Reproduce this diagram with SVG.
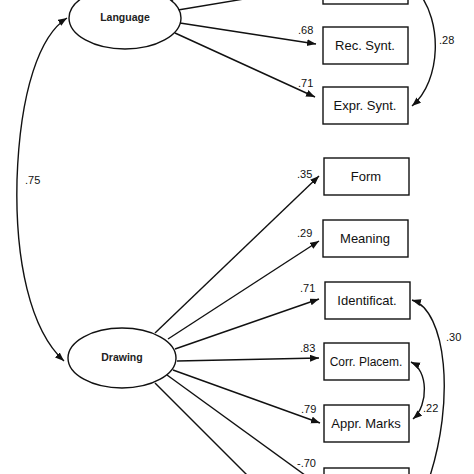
<svg xmlns="http://www.w3.org/2000/svg" width="474" height="474" viewBox="0 0 474 474">
<style>
.bg{fill:#fff}
.box{fill:#fff;stroke:#111;stroke-width:1.4}
.ell{fill:#fff;stroke:#111;stroke-width:1.4}
.lbl{font-family:"Liberation Sans",Arial,sans-serif;font-size:13px;fill:#111;text-anchor:middle}
.lat{font-family:"Liberation Sans",Arial,sans-serif;font-size:10.5px;font-weight:bold;fill:#222;text-anchor:middle}
.num{font-family:"Liberation Sans",Arial,sans-serif;font-size:11px;fill:#111}
.ln{fill:none;stroke:#111;stroke-width:1.4}
</style>
<defs>
<marker id="ah" markerUnits="userSpaceOnUse" markerWidth="10" markerHeight="8" refX="9" refY="3.5" orient="auto-start-reverse">
<path d="M0,0 L9,3.5 L0,7 z" fill="#111"/>
</marker>
</defs>
<rect class="bg" x="0" y="0" width="474" height="474"/>
<g id="connectors">
<path class="ln" d="M178,10 L316,-13" marker-end="url(#ah)"/>
<path class="ln" d="M167,4 L186,-10"/>
<path class="ln" d="M180,23 L316,44" marker-end="url(#ah)"/>
<path class="ln" d="M175,33 L315,97" marker-end="url(#ah)"/>
<path class="ln" d="M155,333 L319,176" marker-end="url(#ah)"/>
<path class="ln" d="M168,339 L319,241" marker-end="url(#ah)"/>
<path class="ln" d="M175,349 L319,299" marker-end="url(#ah)"/>
<path class="ln" d="M177,361 L319,358" marker-end="url(#ah)"/>
<path class="ln" d="M173,370 L320,423" marker-end="url(#ah)"/>
<path class="ln" d="M167,375 L320,486"/>
<path class="ln" d="M155,383 L262,490"/>
<path class="ln" d="M67,18 C40,35 20,90 17,180 C15,260 30,330 64,361" marker-start="url(#ah)" marker-end="url(#ah)"/>
<path class="ln" d="M418,-8 C442,20 442,80 412,106" marker-end="url(#ah)"/>
<path class="ln" d="M412,300 C446,310 456,400 428,482" marker-start="url(#ah)"/>
<path class="ln" d="M411,362 C428,370 429,405 413,419" marker-start="url(#ah)" marker-end="url(#ah)"/>
</g>
<g id="labels">
<text class="num" x="298" y="34">.68</text>
<text class="num" x="298" y="87">.71</text>
<text class="num" x="439" y="44">.28</text>
<text class="num" x="25" y="184">.75</text>
<text class="num" x="297" y="178">.35</text>
<text class="num" x="297" y="237">.29</text>
<text class="num" x="300" y="292">.71</text>
<text class="num" x="300" y="352">.83</text>
<text class="num" x="301" y="413">.79</text>
<text class="num" x="297" y="467">-.70</text>
<text class="num" x="446" y="341">.30</text>
<text class="num" x="423" y="412">.22</text>
</g>
<g id="language"><ellipse class="ell" cx="125" cy="18" rx="56" ry="31"/><text class="lat" x="125" y="21">Language</text></g>
<g id="drawing"><ellipse class="ell" cx="122" cy="358" rx="54" ry="30"/><text class="lat" x="122" y="361">Drawing</text></g>
<g id="topbox"><rect class="box" x="323" y="-33" width="85" height="37"/></g>
<g id="recsynt"><rect class="box" x="323" y="27" width="85" height="37"/><text class="lbl" x="365" y="50">Rec. Synt.</text></g>
<g id="exprsynt"><rect class="box" x="323" y="87" width="85" height="37"/><text class="lbl" x="365" y="110">Expr. Synt.</text></g>
<g id="form"><rect class="box" x="324" y="158" width="85" height="37"/><text class="lbl" x="366" y="181">Form</text></g>
<g id="meaning"><rect class="box" x="323" y="220" width="85" height="37"/><text class="lbl" x="365" y="243">Meaning</text></g>
<g id="identificat"><rect class="box" x="325" y="282" width="85" height="37"/><text class="lbl" x="367" y="305">Identificat.</text></g>
<g id="corrplacem"><rect class="box" x="324" y="343" width="85" height="37"/><text class="lbl" x="366" y="366" style="font-size:12px">Corr. Placem.</text></g>
<g id="apprmarks"><rect class="box" x="324" y="405" width="85" height="37"/><text class="lbl" x="366" y="428">Appr. Marks</text></g>
<g id="bottombox"><rect class="box" x="324" y="468" width="85" height="37"/></g>
</svg>
